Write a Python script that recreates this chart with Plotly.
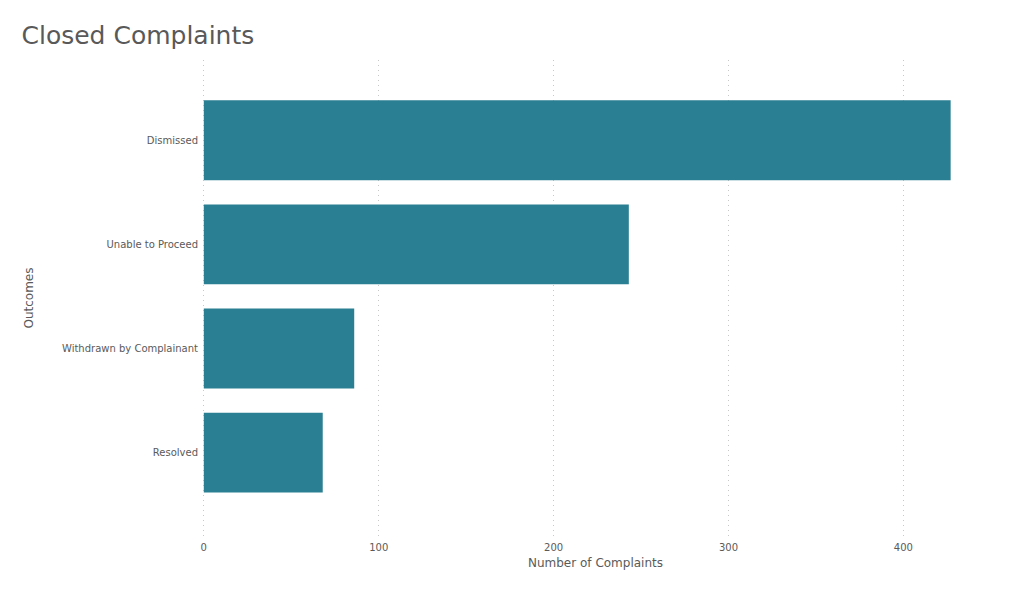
import plotly.graph_objects as go

outcomes = ["Dismissed", "Unable to Proceed", "Withdrawn by Complainant", "Resolved"]
counts = [427, 243, 86, 68]

fig = go.Figure(go.Bar(
    x=counts, y=outcomes, orientation="h",
    marker=dict(color="#2a7f92", line=dict(width=0)),
    hovertemplate="%{y}: %{x}<extra></extra>",
))

font_family = "DejaVu Sans, Verdana, sans-serif"
fig.update_layout(
    width=1024, height=592,
    paper_bgcolor="white", plot_bgcolor="white",
    margin=dict(l=201, r=34, t=60, b=56),
    bargap=0.233,
    font=dict(family=font_family, color="#5a5a5a", size=10),
    title=dict(text="Closed Complaints", x=0.021, xanchor="left", y=0.94, yanchor="middle",
               font=dict(size=25, color="#595959", family=font_family)),
    showlegend=False,
)
fig.update_xaxes(
    range=[-1.6, 449.5], showgrid=True, gridcolor="#c8c8c8", griddash="1px,4px", gridwidth=1,
    zeroline=False, showline=False, ticks="", tickvals=[0, 100, 200, 300, 400],
    ticklabelstandoff=4,
    tickfont=dict(size=10, color="#5a5a5a"),
    title=dict(text="Number of Complaints", font=dict(size=12, color="#5a5a5a"), standoff=6),
)
fig.update_yaxes(
    categoryorder="array", categoryarray=outcomes,
    range=[3.8, -0.77], showgrid=False, zeroline=False, showline=False, ticks="",
    tickfont=dict(size=10, color="#5a5a5a"), ticklabelstandoff=2,
    title=dict(text="Outcomes", font=dict(size=12, color="#5a5a5a"), standoff=25),
)
fig.write_html("out.html")
